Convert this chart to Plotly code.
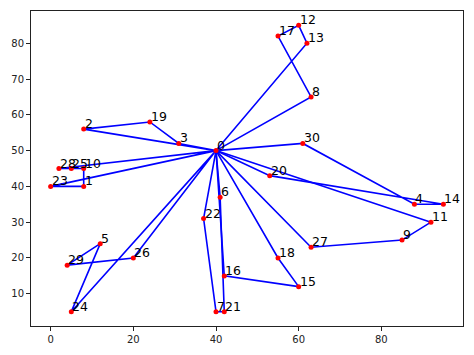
import plotly.graph_objects as go

node_ids = list(range(31))
node_x = [40, 8, 8, 31, 88, 12, 41, 40, 63, 85, 8, 92, 60, 62, 95, 60, 42, 55, 55, 24, 53, 42, 37, 0, 5, 5, 20, 63, 2, 4, 61]
node_y = [50, 40, 56, 52, 35, 24, 37, 5, 65, 25, 45, 30, 85, 80, 35, 12, 15, 82, 20, 58, 43, 5, 31, 40, 5, 45, 20, 23, 45, 18, 52]

routes = [
    [0, 13, 12, 17, 8, 0],
    [0, 30, 4, 14, 20, 0],
    [0, 11, 9, 27, 0],
    [0, 18, 15, 16, 0],
    [0, 6, 21, 7, 22, 0],
    [0, 24, 5, 29, 26, 0],
    [0, 23, 1, 10, 25, 28, 0],
    [0, 3, 19, 2, 0],
]

x_ticks = [0, 20, 40, 60, 80]
y_ticks = [10, 20, 30, 40, 50, 60, 70, 80]

fig = go.Figure()
for r in routes:
    fig.add_trace(go.Scatter(
        x=[node_x[i] for i in r], y=[node_y[i] for i in r],
        mode="lines", line=dict(color="blue", width=1.6),
        showlegend=False, hoverinfo="skip"))

fig.add_trace(go.Scatter(
    x=node_x, y=node_y, mode="markers",
    marker=dict(color="red", size=5, line=dict(width=0)),
    showlegend=False))

for i, xx, yy in zip(node_ids, node_x, node_y):
    fig.add_annotation(x=xx, y=yy, text=str(i), showarrow=False,
                       xanchor="left", yanchor="bottom", yshift=-4, xshift=-1,
                       font=dict(size=12.5, color="black", family="DejaVu Sans"))

axis_common = dict(showline=True, mirror=True, linecolor="#222", linewidth=1,
                   ticks="outside", ticklen=4, tickwidth=1, tickcolor="#222",
                   showgrid=False, zeroline=False, automargin=False,
                   tickfont=dict(size=10, color="#222", family="DejaVu Sans"))

fig.update_layout(
    width=458, height=339,
    margin=dict(l=23, r=3, t=3, b=21),
    plot_bgcolor="white", paper_bgcolor="white",
    xaxis=dict(range=[-4.75, 99.75], tickvals=x_ticks, **axis_common),
    yaxis=dict(range=[1, 89], tickvals=y_ticks, **axis_common),
)

fig.write_html("out.html")
